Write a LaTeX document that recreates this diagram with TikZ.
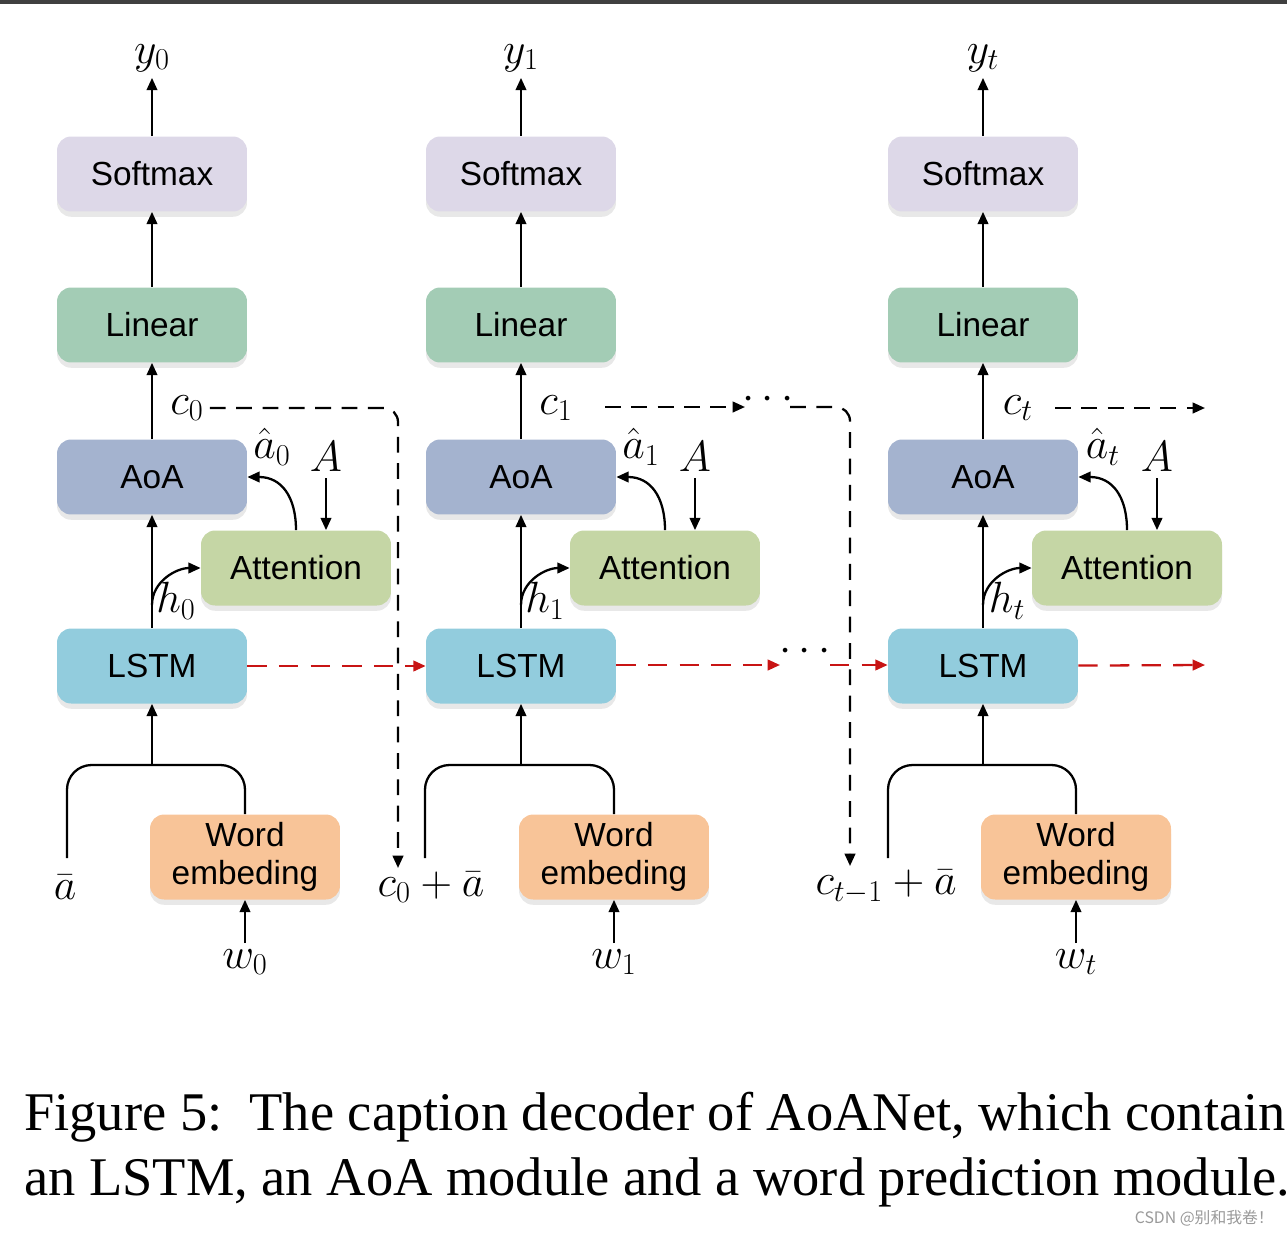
\documentclass[tikz,border=0pt]{standalone}
\usepackage{fontspec}
\setmainfont{Liberation Serif}
\newfontfamily\boxfont{Liberation Sans}
\newfontfamily\cjk{Noto Sans CJK SC}
\usetikzlibrary{arrows.meta,shadows}
\definecolor{smx}{RGB}{221,216,232}
\definecolor{lin}{RGB}{163,204,181}
\definecolor{aoa}{RGB}{164,179,207}
\definecolor{att}{RGB}{197,214,165}
\definecolor{lstm}{RGB}{146,204,221}
\definecolor{wemb}{RGB}{248,196,152}
\definecolor{rnn}{RGB}{200,20,20}
\begin{document}
\begin{tikzpicture}[x=0.02cm,y=-0.02cm,>={Triangle[length=7pt,width=6pt]},
  blk/.style={rounded corners=8pt,minimum width=3.8cm,minimum height=1.5cm,
    font=\boxfont\fontsize{19}{22}\selectfont,align=center,
    drop shadow={shadow xshift=0pt,shadow yshift=-3pt,fill=black!18}},
  ln/.style={line width=1.3pt},
  dsh/.style={line width=1.3pt,dash pattern=on 9pt off 6pt},
  red/.style={line width=1.3pt,rnn,dash pattern=on 11pt off 7pt},
  lbl/.style={font=\fontsize{25}{28}\selectfont}]
\useasboundingbox (0,0) rectangle (1287,1237);
\fill[black!75] (0,0) rectangle (1287,4);

\foreach \dx/\i/\s/\prev/\lx/\bx in {0/0/0/\bar a/65/67, 369/1/1/c_0+\bar a/62/56, 831/2/t/c_{t-1}+\bar a/55/57}{
  \begin{scope}[xshift=\dx*0.02cm]
  \node[blk,fill=smx] (smx\i) at (152,174) {Softmax};
  \node[blk,fill=lin] (lin\i) at (152,325) {Linear};
  \node[blk,fill=aoa] (aoa\i) at (152,477) {AoA};
  \node[blk,fill=att] (att\i) at (296,568) {Attention};
  \node[blk,fill=lstm] (lstm\i) at (152,666) {LSTM};
  \node[blk,fill=wemb,minimum height=1.7cm] (we\i) at (245,857) {Word\\embeding};
  \node[lbl] (y\i) at (152,58) {$y_{\s}$};
  \node[lbl] (c\i) at (187,408) {$c_{\s}$};
  \node[lbl] (ah\i) at (272,447) {$\hat a_{\s}$};
  \node[lbl] (A\i) at (326,457) {$A$};
  \node[lbl] (h\i) at (176,601) {$h_{\s}$};
  \node[lbl] (w\i) at (245,962) {$w_{\s}$};
  \node[lbl] (in\i) at (\lx,887) {$\prev$};
  \coordinate (sp\i) at (152,765);
  \coordinate (hb\i) at (152,605);
  \coordinate (bl\i) at (\bx,858);
  \draw[ln,->] (smx\i) -- (y\i);
  \draw[ln,->] (lin\i) -- (smx\i);
  \draw[ln,->] (aoa\i) -- (lin\i);
  \draw[ln,->] (lstm\i) -- (aoa\i);
  \draw[ln,->] (hb\i) to[out=90,in=180] (att\i.west);
  \draw[ln,->] (att\i.north) to[out=90,in=0,looseness=1.2] (aoa\i.east);
  \draw[ln,->] (A\i.south) -- (att\i.north -| A\i);
  \draw[ln,->] (sp\i) -- (lstm\i);
  \draw[ln,rounded corners=14pt] (bl\i) |- (sp\i) -| (we\i.north);
  \draw[ln,->] (w\i) -- (we\i);
  \end{scope}}
\node[lbl] (dots1) at (768,400) {$\cdots$};
\node[lbl] (dots2) at (805,652) {$\cdots$};
\coordinate (d1a) at (745,407);
\coordinate (d1b) at (790,407);
\coordinate (d2a) at (780,665);
\coordinate (d2b) at (830,665);
\coordinate (s1) at (605,407);
\coordinate (s2) at (1055,408);
\coordinate (e1) at (1205,408);
\coordinate (e2) at (1205,665);
\draw[dsh,->,rounded corners=8pt] (c0.east) -| (398,868);
\draw[dsh,->] (s1) -- (d1a);
\draw[dsh,->,rounded corners=8pt] (d1b) -| (850,866);
\draw[dsh,->] (s2) -- (e1);
\draw[red,->] (lstm0) -- (lstm1);
\draw[red,->] (lstm1.east |- d2a) -- (d2a);
\draw[red,->] (d2b) -- (lstm2.west |- d2b);
\draw[red,->] (lstm2) -- (e2);

\node[anchor=west,font=\fontsize{31}{37}\selectfont,align=left] (cap) at (18,1150)
 {Figure 5:\ \ The caption decoder of AoANet, which contains\\an LSTM, an AoA module and a word prediction module.};
\node[anchor=east,text=black!40,font=\cjk\fontsize{9}{10}\selectfont] (wm) at (1280,1218) {CSDN @别和我卷！};
\end{tikzpicture}
\end{document}
